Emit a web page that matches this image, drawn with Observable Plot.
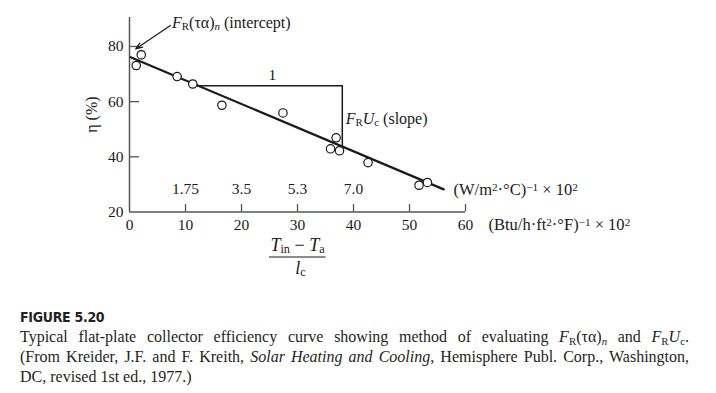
<!DOCTYPE html>
<html>
<head>
<meta charset="utf-8">
<script src="https://cdn.jsdelivr.net/npm/d3@7"></script>
<script src="https://cdn.jsdelivr.net/npm/@observablehq/plot@0.6"></script>
<style>
  html, body { margin: 0; padding: 0; background: white; }
  #wrap { position: relative; width: 716px; height: 393px; overflow: hidden; }
  #chart svg { display: block; }
  #caption { position: absolute; left: 20px; top: 307px; width: 669px; color: #231f20;
             font-family: 'Liberation Serif', serif; }
  #caption .fig { font-family: 'DejaVu Sans', sans-serif; font-stretch: condensed; font-weight: bold;
                  font-size: 14px; line-height: 20px; letter-spacing: -0.3px; }
  #caption .ln { font-size: 16px; line-height: 20px; white-space: nowrap; }
  #caption .j { text-align: justify; text-align-last: justify; white-space: normal; }
  #caption sub { font-size: 68%; line-height: 0; vertical-align: -0.25em; }
</style>
</head>
<body>
<div id="wrap">
  <div id="chart"></div>
  <div id="caption">
    <div class="fig">FIGURE 5.20</div>
    <div class="ln j">Typical flat-plate collector efficiency curve showing method of evaluating <i>F</i><sub>R</sub>(τα)<sub><i>n</i></sub> and <i>F</i><sub>R</sub><i>U</i><sub>c</sub>.</div>
    <div class="ln j">(From Kreider, J.F. and F. Kreith, <i>Solar Heating and Cooling</i>, Hemisphere Publ. Corp., Washington,</div>
    <div class="ln">DC, revised 1st ed., 1977.)</div>
  </div>
</div>
<script>
// ---- data ----
const pointsX = [1.2, 2.1, 8.5, 11.3, 16.5, 27.4, 36.9, 35.9, 37.5, 42.6, 51.7, 53.2];
const pointsY = [73.1, 77.0, 69.1, 66.4, 58.7, 55.9, 46.9, 42.9, 42.2, 37.9, 29.7, 30.7];

const fitX = [0.2, 56.1];
const fitY = [76.1, 28.2];

const triangleX = [12.1, 38.0, 38.0];
const triangleY = [65.8, 65.8, 43.6];

const xTicks = [0, 10, 20, 30, 40, 50, 60];
const yTicks = [20, 40, 60, 80];
const siTickX = [10, 20, 30, 40];
const siTickLabels = ["1.75", "3.5", "5.3", "7.0"];

const arrowFrom = {x: 7.3, y: 87.6};
const arrowTo = {x: 1.1, y: 79.1};

const interceptLabel = {x: 7.6, y: 88.5, text: "*F*_{R}(τα)_{*n*} (intercept)"};
const slopeLabel = {x: 38.6, y: 53.9, text: "*F*_{R}*U*_{c} (slope)"};
const runLabel = {x: 25.5, y: 69.5, text: "1"};

const yLabel = "η (%)";
const siUnit = "(W/m^{2}·°C)^{−1} × 10^{2}";
const usUnit = "(Btu/h·ft^{2}·°F)^{−1} × 10^{2}";
const fracNum = "*T*_{in} − *T*_{a}";
const fracDen = "*l*_{c}";
const fracBar = {x1: 25.0, x2: 35.1, xc: 30};

// ---- chart ----
const ink = "#1a1a1a";
const axisInk = "#555";

const chart = Plot.plot({
  width: 716,
  height: 290,
  marginLeft: 129,
  marginRight: 251,
  marginTop: 17,
  marginBottom: 78.5,
  x: {domain: [0, 60], axis: null},
  y: {domain: [20, 90.5], axis: null},
  style: {fontFamily: "'Liberation Serif', serif", fontSize: "15px", color: ink, background: "white", overflow: "visible"},
  marks: [
    // axes
    Plot.ruleX([0], {y1: 20, y2: 90.5, stroke: axisInk, strokeWidth: 1.5}),
    Plot.ruleY([20], {x1: 0, x2: 60, stroke: axisInk, strokeWidth: 1.5}),
    Plot.tickY(yTicks.filter(d => d > 20), {y: d => d, insetRight: 326, stroke: axisInk, strokeWidth: 1.3}),
    Plot.tickX(xTicks.filter(d => d > 0), {x: d => d, insetTop: 187, stroke: axisInk, strokeWidth: 1.3}),
    Plot.axisX(xTicks, {tickSize: 0, tickPadding: 7, fontSize: 15.5, label: null, fill: ink}),
    Plot.axisY(yTicks, {tickSize: 0, tickPadding: 6, fontSize: 15.5, label: null, fill: ink}),
    Plot.text(siTickX, {x: d => d, y: () => 20, dy: -22.5, text: (d, i) => siTickLabels[i], fontSize: 15.5, fill: ink}),
    Plot.text([siUnit], {x: () => 60, y: () => 20, dy: -22.5, dx: -12, text: d => d, textAnchor: "start", fontSize: 16.5, fill: ink}),
    Plot.text([usUnit], {x: () => 60, y: () => 20, dy: 12.5, dx: 23, text: d => d, textAnchor: "start", fontSize: 16.5, fill: ink}),
    Plot.text([yLabel], {x: () => 0, y: () => 55.3, dx: -38, rotate: -90, text: d => d, fontSize: 16, fill: ink}),
    // fraction label
    Plot.text([fracNum], {x: () => fracBar.xc, y: () => 20, dy: 33.5, text: d => d, fontSize: 18, fill: ink}),
    Plot.ruleY([20], {x1: fracBar.x1, x2: fracBar.x2, dy: 45, stroke: ink, strokeWidth: 1.2}),
    Plot.text([fracDen], {x: () => fracBar.xc, y: () => 20, dy: 56, dx: 3, text: d => d, fontSize: 18, fill: ink}),
    // slope triangle and fit line
    Plot.line(triangleX.map((x, i) => ({x, y: triangleY[i]})), {x: "x", y: "y", stroke: ink, strokeWidth: 1.5}),
    Plot.line(fitX.map((x, i) => ({x, y: fitY[i]})), {x: "x", y: "y", stroke: ink, strokeWidth: 2.2}),
    Plot.dot(pointsX.map((x, i) => ({x, y: pointsY[i]})), {x: "x", y: "y", r: 4.2, fill: "white", stroke: ink, strokeWidth: 1.2}),
    // annotations
    Plot.arrow([0], {x1: () => arrowFrom.x, y1: () => arrowFrom.y, x2: () => arrowTo.x, y2: () => arrowTo.y,
                     stroke: ink, strokeWidth: 1.2, headLength: 9, headAngle: 40}),
    Plot.text([interceptLabel], {x: "x", y: "y", text: "text", textAnchor: "start", fontSize: 16, fill: ink}),
    Plot.text([slopeLabel], {x: "x", y: "y", text: "text", textAnchor: "start", fontSize: 16, fill: ink}),
    Plot.text([runLabel], {x: "x", y: "y", text: "text", textAnchor: "middle", fontSize: 15.5, fill: ink})
  ]
});

// rich text: *italic*, _{sub}, ^{sup}
const NS = "http://www.w3.org/2000/svg";
function richify(el) {
  const s = el.textContent;
  if (!/\*|_\{|\^\{/.test(s)) return;
  el.textContent = "";
  const re = /(\*[^*]*\*|_\{[^}]*\}|\^\{[^}]*\}|[^*_^]+)/g;
  let m;
  while ((m = re.exec(s))) {
    let tok = m[0];
    const ts = document.createElementNS(NS, "tspan");
    let kind = null;
    if (tok.startsWith("_{")) { kind = "sub"; tok = tok.slice(2, -1); }
    else if (tok.startsWith("^{")) { kind = "sup"; tok = tok.slice(2, -1); }
    let ital = false;
    if (tok.startsWith("*") && tok.endsWith("*") && tok.length > 1) { ital = true; tok = tok.slice(1, -1); }
    ts.textContent = tok;
    if (ital) ts.setAttribute("font-style", "italic");
    if (kind) {
      ts.setAttribute("font-size", "68%");
      ts.setAttribute("baseline-shift", kind === "sub" ? "-18%" : "38%");
    }
    el.appendChild(ts);
  }
}
chart.querySelectorAll("text").forEach(t => {
  const tsp = t.querySelectorAll("tspan");
  if (tsp.length) tsp.forEach(richify); else richify(t);
});

document.getElementById("chart").appendChild(chart);
</script>
</body>
</html>
